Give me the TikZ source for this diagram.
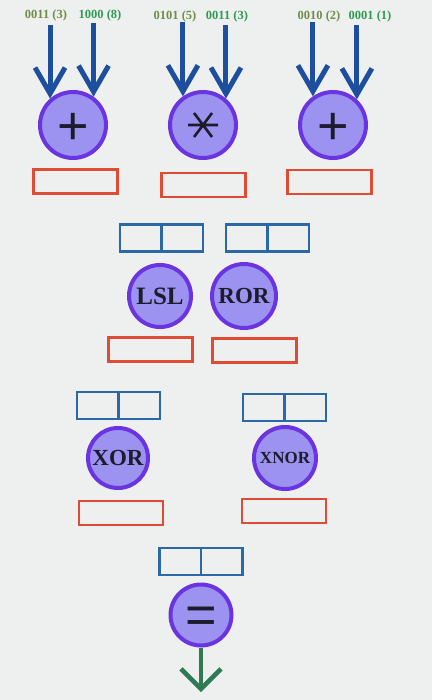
\documentclass[tikz,border=0pt]{standalone}
\usepackage{fontspec}
\setmainfont{Liberation Serif}
\newfontfamily\symfont{Liberation Sans}
\usetikzlibrary{arrows.meta,calc}
\definecolor{bgc}{HTML}{EDF0EE}
\definecolor{arrblue}{HTML}{1E4E9E}
\definecolor{olivelab}{HTML}{6F8C48}
\definecolor{greenlab}{HTML}{2F9A52}
\definecolor{opfill}{HTML}{9C92F0}
\definecolor{opborder}{HTML}{6A35E0}
\definecolor{optext}{HTML}{1C1C2C}
\definecolor{resred}{HTML}{E04B33}
\definecolor{pairblue}{HTML}{2A68A6}
\definecolor{outgreen}{HTML}{2F7A55}
\begin{document}
\begin{tikzpicture}[x=1pt,y=-1pt,
  op/.style={circle, draw=opborder, fill=opfill, line width=4pt, inner sep=0pt,
    text=optext, font=\bfseries\fontsize{24}{24}\selectfont},
  symb/.style={text=optext, font=\symfont\fontsize{54}{54}\selectfont, inner sep=0pt},
  resbox/.style={draw=resred, line width=2.6pt, minimum width=84pt, minimum height=24pt, inner sep=0pt},
  pairbox/.style={draw=pairblue, line width=2.4pt, minimum width=83pt, minimum height=27pt, inner sep=0pt,
    path picture={\draw[pairblue, line width=2.4pt] (path picture bounding box.north) -- (path picture bounding box.south);}},
  lab/.style={font=\bfseries\fontsize{12.5}{12.5}\selectfont, inner sep=1pt},
  inarr/.style={draw=arrblue, line width=5pt, -{Straight Barb[length=26pt,width=30pt]}},
  outarr/.style={draw=outgreen, line width=4.5pt, -{Straight Barb[length=20pt,width=40pt]}}
]
\fill[bgc] (0,0) rectangle (432,700);
\useasboundingbox (0,0) rectangle (432,700);

% input labels
\node[lab, text=olivelab] (l1) at (46,15) {0011 (3)};
\node[lab, text=greenlab] (l2) at (100,15) {1000 (8)};
\node[lab, text=olivelab] (l3) at (175,16) {0101 (5)};
\node[lab, text=greenlab] (l4) at (227,16) {0011 (3)};
\node[lab, text=olivelab] (l5) at (319,16) {0010 (2)};
\node[lab, text=greenlab] (l6) at (370,16) {0001 (1)};

% top operators
\node[op, minimum size=66pt] (c1) at (73,125) {};
\node[op, minimum size=66pt] (c2) at (203,125) {};
\node[op, minimum size=66pt] (c3) at (333,125) {};
\node[symb, yshift=-4pt] (p1) at (c1) {+};
\node[symb, yshift=-4pt] (p3) at (c3) {+};
\draw[optext, line width=2.6pt] ($(c2)+(-15,0)$) -- ($(c2)+(15,0)$)
  ($(c2)+(-9,-12)$) -- ($(c2)+(9,12)$)
  ($(c2)+(-9,12)$) -- ($(c2)+(9,-12)$);

% input arrows
\foreach \c/\a/\n in {c1/131/a, c1/54/b, c2/125/c, c2/49/d, c3/125/e, c3/47/f}{
  \coordinate (s\n) at ($(\c.\a)+(0,-74)$);
  \draw[inarr] (s\n) -- (\c.\a);
}

% top result boxes
\node[resbox] (r1) at (75.5,181.5) {};
\node[resbox] (r2) at (203.5,185) {};
\node[resbox] (r3) at (329.5,182) {};

% LSL / ROR
\node[pairbox] (b1) at (161.5,238) {};
\node[pairbox] (b2) at (267.5,238) {};
\node[op, minimum size=62pt, font=\bfseries\fontsize{25}{25}\selectfont] (lsl) at (160,296) {LSL};
\node[op, minimum size=64pt, font=\bfseries\fontsize{23}{23}\selectfont] (ror) at (244,296) {ROR};
\node[resbox] (r4) at (150.5,349.5) {};
\node[resbox] (r5) at (254.5,350.5) {};

% XOR / XNOR
\node[pairbox] (b3) at (118.5,405.5) {};
\node[pairbox] (b4) at (284.5,407.5) {};
\node[op, minimum size=60pt, font=\bfseries\fontsize{23}{23}\selectfont] (xor) at (118,458) {XOR};
\node[op, minimum size=62pt, font=\bfseries\fontsize{17}{17}\selectfont] (xnor) at (285,458) {XNOR};
\node[resbox] (r6) at (121,513) {};
\node[resbox] (r7) at (284,511) {};

% final
\node[pairbox] (b5) at (201,561.5) {};
\node[op, minimum size=61pt] (eqc) at (201,615) {};
\node[symb, yshift=-5pt] (eqs) at (eqc) {=};
\coordinate (outend) at (201,692);
\draw[outarr] (eqc.south) -- (outend);
\end{tikzpicture}
\end{document}
